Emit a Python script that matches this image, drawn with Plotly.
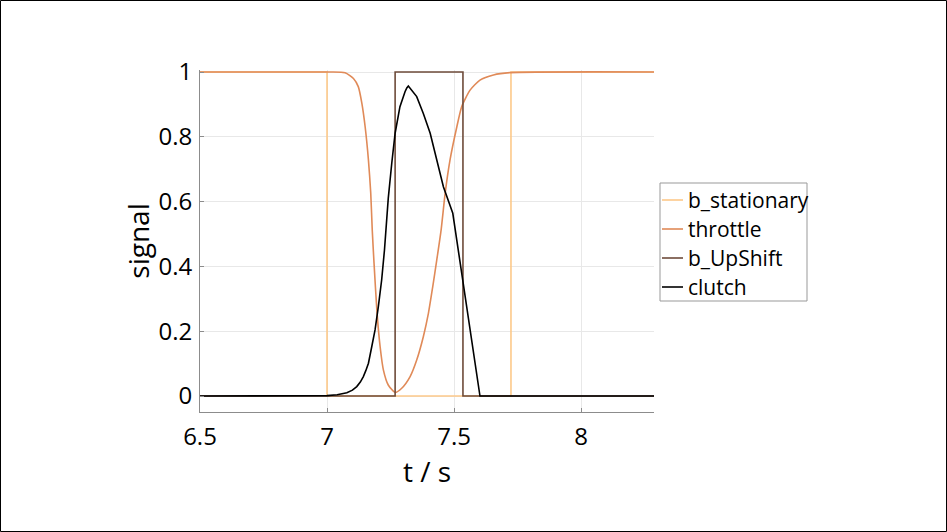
import plotly.graph_objects as go

# ---- data ----
t_stationary = [6.5, 7.0, 7.0, 7.724, 7.724, 8.3]
v_stationary = [1, 1, 0, 0, 1, 1]

t_throttle = [6.5, 7.0, 7.071, 7.104, 7.123, 7.137, 7.150, 7.163, 7.172, 7.178, 7.185,
              7.197, 7.209, 7.222, 7.241, 7.268, 7.294, 7.327, 7.353, 7.379, 7.399,
              7.416, 7.432, 7.449, 7.465, 7.484, 7.511, 7.530, 7.563, 7.602, 7.655,
              7.720, 8.3]
v_throttle = [1, 1, 0.998, 0.98, 0.955, 0.904, 0.831, 0.728, 0.627, 0.512, 0.41,
              0.255, 0.152, 0.080, 0.034, 0.011, 0.024, 0.06, 0.111, 0.183, 0.255,
              0.337, 0.42, 0.512, 0.626, 0.728, 0.831, 0.893, 0.944, 0.975, 0.991,
              0.998, 1]

t_upshift = [6.5, 7.268, 7.268, 7.535, 7.535, 8.3]
v_upshift = [0, 0, 1, 1, 0, 0]

t_clutch = [6.5, 7.0, 7.04, 7.078, 7.100, 7.117, 7.131, 7.143, 7.153, 7.163, 7.176,
            7.189, 7.202, 7.215, 7.226, 7.2315, 7.241, 7.255, 7.268, 7.287, 7.298,
            7.307, 7.314, 7.320, 7.353, 7.379, 7.406, 7.432, 7.458, 7.495, 7.602, 8.3]
v_clutch = [0, 0.001, 0.004, 0.01, 0.018, 0.029, 0.043, 0.06, 0.079, 0.101, 0.152,
            0.204, 0.276, 0.358, 0.45, 0.512, 0.61, 0.72, 0.811, 0.893, 0.922,
            0.939, 0.951, 0.957, 0.924, 0.872, 0.811, 0.728, 0.646, 0.564, 0, 0]

x_ticks = [6.5, 7, 7.5, 8]
x_ticklabels = ["6.5", "7", "7.5", "8"]
y_ticks = [0, 0.2, 0.4, 0.6, 0.8, 1]
y_ticklabels = ["0", "0.2", "0.4", "0.6", "0.8", "1"]

series_names = ["b_stationary", "throttle", "b_UpShift", "clutch"]
series_t = [t_stationary, t_throttle, t_upshift, t_clutch]
series_v = [v_stationary, v_throttle, v_upshift, v_clutch]
series_colors = ["#fdc98a", "#e08a58", "#6e4b3a", "#000000"]
series_shape = ["linear", "spline", "linear", "linear"]

FONT = "Open Sans"
W, H = 947, 532
L, R, T, B = 200, 293, 70, 120
pw, ph = W - L - R, H - T - B


def px_x(p):
    return (p - L) / pw


def px_y(p):
    return (H - B - p) / ph


fig = go.Figure()
for name, xs, ys, col, shp in zip(series_names, series_t, series_v, series_colors, series_shape):
    line = dict(color=col, width=1.6, shape=shp)
    if shp == "spline":
        line["smoothing"] = 0.6
    fig.add_trace(go.Scatter(x=xs, y=ys, mode="lines", name=name, line=line,
                             showlegend=False))

fig.update_layout(
    width=W, height=H,
    margin=dict(l=L, r=R, t=T, b=B, pad=0),
    paper_bgcolor="white", plot_bgcolor="white",
    font=dict(family=FONT, color="black"),
    showlegend=False,
    xaxis=dict(range=[6.5, 8.287], tickvals=x_ticks, ticktext=x_ticklabels,
               showgrid=True, gridcolor="#e8e8e8", gridwidth=1, zeroline=False,
               showline=True, linecolor="#8c8c8c", linewidth=1,
               ticks="inside", ticklen=4, tickcolor="#8c8c8c",
               tickfont=dict(size=24, family=FONT), ticklabelstandoff=3,
               title=dict(text="t / s", font=dict(size=28, family=FONT), standoff=4)),
    yaxis=dict(range=[-0.0494, 1.0062], tickvals=y_ticks, ticktext=y_ticklabels,
               showgrid=True, gridcolor="#e8e8e8", gridwidth=1, zeroline=False,
               showline=True, linecolor="#8c8c8c", linewidth=1,
               ticks="inside", ticklen=4, tickcolor="#8c8c8c",
               tickfont=dict(size=24, family=FONT), ticklabelstandoff=2,
               title=dict(text="signal", font=dict(size=28, family=FONT), standoff=0)),
)

# legend box drawn to match the reference's compact legend
lx0, lx1, ly0, ly1 = 660, 807, 183, 301
fig.add_shape(type="rect", xref="paper", yref="paper",
              x0=px_x(lx0), x1=px_x(lx1), y0=px_y(ly1), y1=px_y(ly0),
              line=dict(color="#999999", width=1), fillcolor="white", layer="above")
for i, (name, col) in enumerate(zip(series_names, series_colors)):
    yy = 200 + 29 * i
    fig.add_shape(type="line", xref="paper", yref="paper",
                  x0=px_x(662), x1=px_x(683), y0=px_y(yy), y1=px_y(yy),
                  line=dict(color=col, width=1.6), layer="above")
    fig.add_annotation(xref="paper", yref="paper", x=px_x(686), y=px_y(yy),
                       xanchor="left", yanchor="middle", text=name, showarrow=False,
                       font=dict(size=21, family=FONT, color="black"))

# outer frame around the whole figure
fig.add_shape(type="rect", xref="paper", yref="paper",
              x0=(0.5 - L) / pw, x1=(W - 0.5 - L) / pw,
              y0=(-B + 0.5) / ph, y1=(H - B - 0.5) / ph,
              line=dict(color="black", width=1), layer="above")

fig.write_html("out.html")
